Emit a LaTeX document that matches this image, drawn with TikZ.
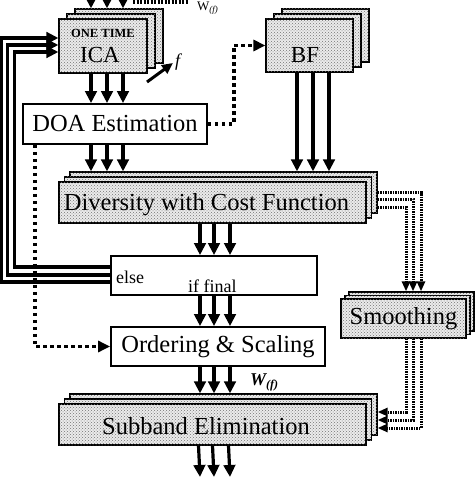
\documentclass[tikz,border=0pt]{standalone}
\usepackage{fontspec}
\setmainfont{Liberation Serif}
\usetikzlibrary{arrows.meta,patterns,calc}
\begin{document}
\begin{tikzpicture}[x=1pt,y=-1pt,
  box/.style={draw,line width=1.8pt,rectangle,inner sep=0pt,fill=white},
  stip/.style={draw,line width=1.2pt,rectangle,inner sep=0pt,fill=black!8,
    postaction={pattern=crosshatch dots,pattern color=black!55}},
  big/.style={font=\fontsize{24.5}{26}\selectfont},
  lbl/.style={font=\fontsize{18}{20}\selectfont,inner sep=0pt},
  arr/.style={line width=3.2pt,-{Triangle[length=12pt,width=11.5pt]}},
  dotarr/.style={line width=3.8pt,dash pattern=on 3.5pt off 3.5pt,-{Triangle[length=12pt,width=11pt]}},
  fdot/.style={line width=3pt,dash pattern=on 1.5pt off 1pt,-{Triangle[length=10pt,width=8pt]}},
]
\useasboundingbox (0,0) rectangle (474,478);

% ---- ICA stack
\node[stip,minimum width=88pt,minimum height=54pt] (ica3) at (119,36) {};
\node[stip,minimum width=88pt,minimum height=54pt] (ica2) at (111,41) {};
\node[stip,minimum width=88pt,minimum height=54pt] (ica) at (103,46) {};
\node[font=\fontsize{12.5}{13}\selectfont\bfseries,inner sep=0pt] (icat1) at (103,33) {ONE TIME};
\node[font=\fontsize{23}{24}\selectfont,inner sep=0pt] (icat2) at (100,55) {ICA};

% ---- BF stack
\node[stip,minimum width=87pt,minimum height=53pt] (bf3) at (325.5,35.5) {};
\node[stip,minimum width=87pt,minimum height=53pt] (bf2) at (317.5,40.5) {};
\node[stip,minimum width=87pt,minimum height=53pt] (bf) at (309.5,45.5) {};
\node[font=\fontsize{23}{24}\selectfont,inner sep=0pt] (bft) at (305,55) {BF};

% ---- DOA
\node[box,big,minimum width=184pt,minimum height=40pt] (doa) at (115,124) {DOA Estimation};

% ---- Diversity stack
\node[stip,minimum width=307pt,minimum height=41pt] (div3) at (223.5,192.5) {};
\node[stip,minimum width=307pt,minimum height=41pt] (div2) at (218,197.5) {};
\node[stip,minimum width=307pt,minimum height=41pt] (div) at (212.5,202.5) {};
\node[big,inner sep=0pt] (divt) at (206.5,205) {Diversity with Cost Function};

% ---- else box
\node[box,minimum width=206pt,minimum height=39pt] (els) at (214,275.5) {};
\node[lbl,anchor=base west] (elset) at (116,283) {else};
\node[lbl,anchor=base west] (ift) at (188,292) {if final};

% ---- Ordering
\node[box,big,minimum width=214pt,minimum height=39pt] (ord) at (218,346.5) {Ordering \& Scaling};

% ---- Smoothing stack
\node[stip,minimum width=125pt,minimum height=39pt] (smo3) at (411.5,311.5) {};
\node[stip,minimum width=125pt,minimum height=39pt] (smo2) at (407.5,315) {};
\node[stip,minimum width=125pt,minimum height=39pt] (smo) at (403.5,318.5) {};
\node[big,inner sep=0pt] (smot) at (403.5,319) {Smoothing};

% ---- Subband stack
\node[stip,minimum width=307pt,minimum height=41pt] (sub3) at (223.5,414.5) {};
\node[stip,minimum width=307pt,minimum height=41pt] (sub2) at (218,419.5) {};
\node[stip,minimum width=307pt,minimum height=41pt] (sub) at (212.5,424.5) {};
\node[big,inner sep=0pt] (subt) at (206,426) {Subband Elimination};

% ---- top input
\coordinate (top) at (107,-3);
\coordinate (dl) at (133,2);
\coordinate (dr) at (188,2);
\draw[line width=4pt,dash pattern=on 2pt off 1.5pt] (dl) -- (dr);
\node[inner sep=0pt,anchor=base west,font=\fontsize{13}{14}\selectfont] (wtop) at (197,10.5) {W\raisebox{-2pt}{\fontsize{9}{9}\selectfont\itshape (f)}};
\foreach \s in {-16,0,16}
  \draw[arr] ([xshift=\s pt]top) -- ([xshift=\s pt]top |- ica3.north);

% ---- ICA -> DOA
\foreach \s in {-12,4,20}
  \draw[arr] ([xshift=\s pt]ica.south) -- ([xshift=\s pt]ica.south |- doa.north);

% ---- f arrow
\coordinate (fs) at (147,82);
\coordinate (fe) at (173,63);
\draw[line width=3pt,-{Triangle[length=11pt,width=10pt]}] (fs) -- (fe);
\node[lbl,anchor=base west,font=\fontsize{18}{20}\selectfont\itshape] (flab) at (175,67) {f};

% ---- DOA -> Diversity
\foreach \s in {-24,-8,8}
  \draw[arr] ([xshift=\s pt]doa.south) -- ([xshift=\s pt]doa.south |- div3.north);

% ---- BF -> Diversity
\foreach \s in {-12.5,3.5,19.5}
  \draw[arr] ([xshift=\s pt]bf.south) -- ([xshift=\s pt]bf.south |- div3.north);

% ---- DOA -> BF dotted
\draw[dotarr] (doa.east) -- ++(26,0) |- (bf.west);

% ---- DOA -> Ordering dotted
\draw[dotarr] ([xshift=-80pt]doa.south) |- (ord.west);

% ---- Diversity -> else
\foreach \s in {-12.5,1.5,17.5}
  \draw[arr] ([xshift=\s pt]div.south) -- ([xshift=\s pt]div.south |- els.north);

% ---- feedback else -> ICA
\draw[arr] ([yshift=8.5pt]els.west) -- ++(-96,0) |- ([yshift=-6pt]ica.west);
\draw[arr] ([yshift=0.5pt]els.west) -- ++(-103,0) |- ([yshift=1pt]ica.west);
\draw[arr] ([yshift=-6.5pt]els.west) -- ++(-109,0) |- ([yshift=8pt]ica.west);

% ---- else -> Ordering
\foreach \s in {-14,0,16}
  \draw[arr] ([xshift=\s pt]els.south) -- ([xshift=\s pt]els.south |- ord.north);

% ---- Ordering -> Subband
\foreach \s in {-18,-4,12}
  \draw[arr] ([xshift=\s pt]ord.south) -- ([xshift=\s pt]ord.south |- sub3.north);
\node[lbl,anchor=base west,font=\fontsize{18}{20}\selectfont\bfseries\itshape] (wlab) at (250,385) {W\raisebox{-3pt}{\fontsize{12}{12}\selectfont\bfseries\itshape (f)}};

% ---- Subband output
\coordinate (bot) at (214,477);
\foreach \s in {-14,0,16}
  \draw[arr] ([xshift=\s pt]sub.south) -- ([xshift=\s pt]bot);

% ---- Diversity -> Smoothing (dotted)
\draw[fdot] ([yshift=0pt]div3.east) -| ([xshift=9.5pt]smo3.north);
\draw[fdot] ([yshift=-6.5pt]div3.east) -| ([xshift=1.5pt]smo3.north);
\draw[fdot] ([yshift=-14.5pt]div3.east) -| ([xshift=-5.5pt]smo3.north);

% ---- Smoothing -> Subband (dotted)
\draw[fdot] ([xshift=2.5pt]smo.south) |- ([yshift=2.5pt]sub3.east);
\draw[fdot] ([xshift=9.5pt]smo.south) |- ([yshift=-5.5pt]sub3.east);
\draw[fdot] ([xshift=17.5pt]smo.south) |- ([yshift=-13.5pt]sub3.east);
\end{tikzpicture}
\end{document}
